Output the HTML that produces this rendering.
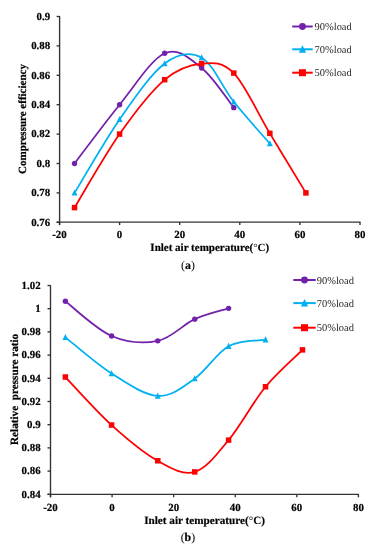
<!DOCTYPE html>
<html><head><meta charset="utf-8"><style>
html,body{margin:0;padding:0;background:#fff;width:369px;height:550px;overflow:hidden}
svg{display:block}
text{text-rendering:geometricPrecision;font-family:"Liberation Serif", serif;font-weight:bold;font-size:10.9px;fill:#000;stroke:#000;stroke-width:0.2px}
.t{font-size:11px}
.t2{font-size:11.2px}
.n{font-weight:normal;stroke:none}
.l{font-size:11.8px}
.g{font-size:10.45px;font-weight:normal;fill:#1e1e1e;stroke:none}
</style></head><body>
<svg width="369" height="550" viewBox="0 0 369 550">
<rect width="369" height="550" fill="#fff"/>
<filter id="f" x="0" y="0" width="369" height="550" filterUnits="userSpaceOnUse"><feGaussianBlur stdDeviation="0.3"/></filter>
<g filter="url(#f)">
<line x1="59.6" y1="16.0" x2="59.6" y2="225.1" stroke="#333" stroke-width="1.35"/>
<line x1="56.6" y1="222.1" x2="360.5" y2="222.1" stroke="#333" stroke-width="1.35"/>
<line x1="56.6" y1="16.50" x2="59.6" y2="16.50" stroke="#333" stroke-width="1.35"/>
<text x="50.2" y="19.80" text-anchor="end">0.9</text>
<line x1="56.6" y1="45.90" x2="59.6" y2="45.90" stroke="#333" stroke-width="1.35"/>
<text x="50.2" y="49.20" text-anchor="end">0.88</text>
<line x1="56.6" y1="75.30" x2="59.6" y2="75.30" stroke="#333" stroke-width="1.35"/>
<text x="50.2" y="78.60" text-anchor="end">0.86</text>
<line x1="56.6" y1="104.70" x2="59.6" y2="104.70" stroke="#333" stroke-width="1.35"/>
<text x="50.2" y="108.00" text-anchor="end">0.84</text>
<line x1="56.6" y1="134.10" x2="59.6" y2="134.10" stroke="#333" stroke-width="1.35"/>
<text x="50.2" y="137.40" text-anchor="end">0.82</text>
<line x1="56.6" y1="163.50" x2="59.6" y2="163.50" stroke="#333" stroke-width="1.35"/>
<text x="50.2" y="166.80" text-anchor="end">0.8</text>
<line x1="56.6" y1="192.90" x2="59.6" y2="192.90" stroke="#333" stroke-width="1.35"/>
<text x="50.2" y="196.20" text-anchor="end">0.78</text>
<line x1="56.6" y1="222.30" x2="59.6" y2="222.30" stroke="#333" stroke-width="1.35"/>
<text x="50.2" y="225.60" text-anchor="end">0.76</text>
<line x1="59.50" y1="222.1" x2="59.50" y2="225.1" stroke="#333" stroke-width="1.35"/>
<text x="59.50" y="237.8" text-anchor="middle">-20</text>
<line x1="119.60" y1="222.1" x2="119.60" y2="225.1" stroke="#333" stroke-width="1.35"/>
<text x="119.60" y="237.8" text-anchor="middle">0</text>
<line x1="179.70" y1="222.1" x2="179.70" y2="225.1" stroke="#333" stroke-width="1.35"/>
<text x="179.70" y="237.8" text-anchor="middle">20</text>
<line x1="239.80" y1="222.1" x2="239.80" y2="225.1" stroke="#333" stroke-width="1.35"/>
<text x="239.80" y="237.8" text-anchor="middle">40</text>
<line x1="299.90" y1="222.1" x2="299.90" y2="225.1" stroke="#333" stroke-width="1.35"/>
<text x="299.90" y="237.8" text-anchor="middle">60</text>
<line x1="360.00" y1="222.1" x2="360.00" y2="225.1" stroke="#333" stroke-width="1.35"/>
<text x="360.00" y="237.8" text-anchor="middle">80</text>
<path d="M74.53,163.50 C82.04,153.70 104.57,123.08 119.60,104.70 C134.62,86.33 151.00,59.38 164.68,53.25 C178.35,47.13 190.12,58.89 201.64,67.95 C213.16,77.02 228.43,101.03 233.79,107.64" fill="none" stroke="#7222AA" stroke-width="1.75" stroke-linejoin="round"/>
<circle cx="74.53" cy="163.50" r="2.70" fill="#7222AA"/>
<circle cx="119.60" cy="104.70" r="2.70" fill="#7222AA"/>
<circle cx="164.68" cy="53.25" r="2.70" fill="#7222AA"/>
<circle cx="201.64" cy="67.95" r="2.70" fill="#7222AA"/>
<circle cx="233.79" cy="107.64" r="2.70" fill="#7222AA"/>
<path d="M74.53,192.90 C82.04,180.65 104.57,140.96 119.60,119.40 C134.62,97.84 151.00,73.83 164.68,63.54 C178.35,53.25 190.12,51.29 201.64,57.66 C213.16,64.03 222.42,87.43 233.79,101.76 C245.16,116.09 263.84,136.67 269.85,143.66" fill="none" stroke="#00B0F0" stroke-width="1.75" stroke-linejoin="round"/>
<path d="M74.53,189.59 L77.48,195.61 L71.58,195.61 Z" fill="#00B0F0"/>
<path d="M119.60,116.09 L122.55,122.11 L116.65,122.11 Z" fill="#00B0F0"/>
<path d="M164.68,60.23 L167.62,66.25 L161.73,66.25 Z" fill="#00B0F0"/>
<path d="M201.64,54.35 L204.59,60.37 L198.69,60.37 Z" fill="#00B0F0"/>
<path d="M233.79,98.45 L236.74,104.47 L230.84,104.47 Z" fill="#00B0F0"/>
<path d="M269.85,140.35 L272.80,146.36 L266.90,146.36 Z" fill="#00B0F0"/>
<path d="M74.53,207.60 C82.04,195.35 104.57,155.42 119.60,134.10 C134.62,112.79 151.00,91.47 164.68,79.71 C178.35,67.95 190.12,64.64 201.64,63.54 C213.16,62.44 222.42,61.46 233.79,73.09 C245.16,84.73 257.83,113.40 269.85,133.37 C281.87,153.33 299.90,182.98 305.91,192.90" fill="none" stroke="#FF0000" stroke-width="1.75" stroke-linejoin="round"/>
<rect x="71.78" y="204.85" width="5.50" height="5.50" fill="#FF0000"/>
<rect x="116.85" y="131.35" width="5.50" height="5.50" fill="#FF0000"/>
<rect x="161.93" y="76.96" width="5.50" height="5.50" fill="#FF0000"/>
<rect x="198.89" y="60.79" width="5.50" height="5.50" fill="#FF0000"/>
<rect x="231.04" y="70.34" width="5.50" height="5.50" fill="#FF0000"/>
<rect x="267.10" y="130.62" width="5.50" height="5.50" fill="#FF0000"/>
<rect x="303.16" y="190.15" width="5.50" height="5.50" fill="#FF0000"/>
<line x1="292.2" y1="26.5" x2="312.7" y2="26.5" stroke="#7222AA" stroke-width="2"/>
<circle cx="302.45" cy="26.50" r="3.45" fill="#7222AA"/>
<text x="314.6" y="30.1" class="g">90%load</text>
<line x1="292.2" y1="49.3" x2="312.7" y2="49.3" stroke="#00B0F0" stroke-width="2"/>
<path d="M302.45,45.15 L306.15,52.70 L298.75,52.70 Z" fill="#00B0F0"/>
<text x="314.6" y="52.9" class="g">70%load</text>
<line x1="292.2" y1="72.7" x2="312.7" y2="72.7" stroke="#FF0000" stroke-width="2"/>
<rect x="298.95" y="69.20" width="7.00" height="7.00" fill="#FF0000"/>
<text x="314.6" y="76.3" class="g">50%load</text>
<text x="209.8" y="250.8" text-anchor="middle" class="t">Inlet air temperature(<tspan class="n">°</tspan><tspan style="stroke:none">C</tspan>)</text>
<text x="188" y="268.5" text-anchor="middle" class="l"><tspan class="n">(</tspan>a<tspan class="n">)</tspan></text>
<text transform="translate(25.8,119) rotate(-90)" text-anchor="middle" class="t" xml:space="preserve">Compressure efficiency</text>
<line x1="50.5" y1="285.3" x2="50.5" y2="497.3" stroke="#333" stroke-width="1.35"/>
<line x1="47.5" y1="494.3" x2="358.90000000000003" y2="494.3" stroke="#333" stroke-width="1.35"/>
<line x1="47.5" y1="285.50" x2="50.5" y2="285.50" stroke="#333" stroke-width="1.35"/>
<text x="40.6" y="288.70" text-anchor="end">1.02</text>
<line x1="47.5" y1="308.70" x2="50.5" y2="308.70" stroke="#333" stroke-width="1.35"/>
<text x="40.6" y="311.90" text-anchor="end">1</text>
<line x1="47.5" y1="331.90" x2="50.5" y2="331.90" stroke="#333" stroke-width="1.35"/>
<text x="40.6" y="335.10" text-anchor="end">0.98</text>
<line x1="47.5" y1="355.10" x2="50.5" y2="355.10" stroke="#333" stroke-width="1.35"/>
<text x="40.6" y="358.30" text-anchor="end">0.96</text>
<line x1="47.5" y1="378.30" x2="50.5" y2="378.30" stroke="#333" stroke-width="1.35"/>
<text x="40.6" y="381.50" text-anchor="end">0.94</text>
<line x1="47.5" y1="401.50" x2="50.5" y2="401.50" stroke="#333" stroke-width="1.35"/>
<text x="40.6" y="404.70" text-anchor="end">0.92</text>
<line x1="47.5" y1="424.70" x2="50.5" y2="424.70" stroke="#333" stroke-width="1.35"/>
<text x="40.6" y="427.90" text-anchor="end">0.9</text>
<line x1="47.5" y1="447.90" x2="50.5" y2="447.90" stroke="#333" stroke-width="1.35"/>
<text x="40.6" y="451.10" text-anchor="end">0.88</text>
<line x1="47.5" y1="471.10" x2="50.5" y2="471.10" stroke="#333" stroke-width="1.35"/>
<text x="40.6" y="474.30" text-anchor="end">0.86</text>
<line x1="47.5" y1="494.30" x2="50.5" y2="494.30" stroke="#333" stroke-width="1.35"/>
<text x="40.6" y="497.50" text-anchor="end">0.84</text>
<line x1="50.50" y1="494.3" x2="50.50" y2="497.3" stroke="#333" stroke-width="1.35"/>
<text x="50.50" y="510.6" text-anchor="middle">-20</text>
<line x1="112.08" y1="494.3" x2="112.08" y2="497.3" stroke="#333" stroke-width="1.35"/>
<text x="112.08" y="510.6" text-anchor="middle">0</text>
<line x1="173.66" y1="494.3" x2="173.66" y2="497.3" stroke="#333" stroke-width="1.35"/>
<text x="173.66" y="510.6" text-anchor="middle">20</text>
<line x1="235.24" y1="494.3" x2="235.24" y2="497.3" stroke="#333" stroke-width="1.35"/>
<text x="235.24" y="510.6" text-anchor="middle">40</text>
<line x1="296.82" y1="494.3" x2="296.82" y2="497.3" stroke="#333" stroke-width="1.35"/>
<text x="296.82" y="510.6" text-anchor="middle">60</text>
<line x1="358.40" y1="494.3" x2="358.40" y2="497.3" stroke="#333" stroke-width="1.35"/>
<text x="358.40" y="510.6" text-anchor="middle">80</text>
<path d="M65.39,301.28 C73.09,307.06 96.19,329.37 111.58,335.96 C126.98,342.55 143.91,343.64 157.76,340.83 C171.62,338.03 182.91,324.55 194.71,319.14 C206.52,313.73 222.94,310.15 228.58,308.35" fill="none" stroke="#7222AA" stroke-width="1.75" stroke-linejoin="round"/>
<circle cx="65.39" cy="301.28" r="2.70" fill="#7222AA"/>
<circle cx="111.58" cy="335.96" r="2.70" fill="#7222AA"/>
<circle cx="157.76" cy="340.83" r="2.70" fill="#7222AA"/>
<circle cx="194.71" cy="319.14" r="2.70" fill="#7222AA"/>
<circle cx="228.58" cy="308.35" r="2.70" fill="#7222AA"/>
<path d="M65.39,337.35 C73.09,343.38 96.19,363.78 111.58,373.54 C126.98,383.31 143.91,395.08 157.76,395.93 C171.62,396.78 182.91,386.94 194.71,378.65 C206.52,370.35 216.78,352.66 228.58,346.17 C240.38,339.67 259.37,340.75 265.53,339.67" fill="none" stroke="#00B0F0" stroke-width="1.75" stroke-linejoin="round"/>
<path d="M65.39,334.04 L68.34,340.06 L62.44,340.06 Z" fill="#00B0F0"/>
<path d="M111.58,370.23 L114.53,376.25 L108.63,376.25 Z" fill="#00B0F0"/>
<path d="M157.76,392.62 L160.71,398.64 L154.81,398.64 Z" fill="#00B0F0"/>
<path d="M194.71,375.34 L197.66,381.36 L191.76,381.36 Z" fill="#00B0F0"/>
<path d="M228.58,342.86 L231.53,348.88 L225.63,348.88 Z" fill="#00B0F0"/>
<path d="M265.53,336.36 L268.48,342.38 L262.58,342.38 Z" fill="#00B0F0"/>
<path d="M65.39,377.02 C73.09,385.03 96.19,411.09 111.58,425.05 C126.98,439.01 143.91,452.97 157.76,460.78 C171.62,468.59 182.91,475.35 194.71,471.91 C206.52,468.47 216.78,454.32 228.58,440.13 C240.38,425.94 253.21,401.81 265.53,386.77 C277.85,371.73 296.32,356.03 302.48,349.88" fill="none" stroke="#FF0000" stroke-width="1.75" stroke-linejoin="round"/>
<rect x="62.64" y="374.27" width="5.50" height="5.50" fill="#FF0000"/>
<rect x="108.83" y="422.30" width="5.50" height="5.50" fill="#FF0000"/>
<rect x="155.01" y="458.03" width="5.50" height="5.50" fill="#FF0000"/>
<rect x="191.96" y="469.16" width="5.50" height="5.50" fill="#FF0000"/>
<rect x="225.83" y="437.38" width="5.50" height="5.50" fill="#FF0000"/>
<rect x="262.78" y="384.02" width="5.50" height="5.50" fill="#FF0000"/>
<rect x="299.73" y="347.13" width="5.50" height="5.50" fill="#FF0000"/>
<line x1="293.3" y1="280" x2="315.7" y2="280" stroke="#7222AA" stroke-width="2"/>
<circle cx="304.50" cy="280.00" r="3.45" fill="#7222AA"/>
<text x="316.8" y="283.6" class="g">90%load</text>
<line x1="293.3" y1="303.1" x2="315.7" y2="303.1" stroke="#00B0F0" stroke-width="2"/>
<path d="M304.50,298.95 L308.20,306.50 L300.80,306.50 Z" fill="#00B0F0"/>
<text x="316.8" y="306.70000000000005" class="g">70%load</text>
<line x1="293.3" y1="327.7" x2="315.7" y2="327.7" stroke="#FF0000" stroke-width="2"/>
<rect x="301.00" y="324.20" width="7.00" height="7.00" fill="#FF0000"/>
<text x="316.8" y="331.3" class="g">50%load</text>
<text x="204.6" y="523.6" text-anchor="middle" class="t2">Inlet air temperature(<tspan class="n">°</tspan><tspan style="stroke:none">C</tspan>)</text>
<text x="187.9" y="540.5" text-anchor="middle" class="l"><tspan class="n">(</tspan>b<tspan class="n">)</tspan></text>
<text transform="translate(18,389.4) rotate(-90)" text-anchor="middle" class="t2" xml:space="preserve">Relative  pressure ratio</text>
</g>
</svg>
</body></html>
